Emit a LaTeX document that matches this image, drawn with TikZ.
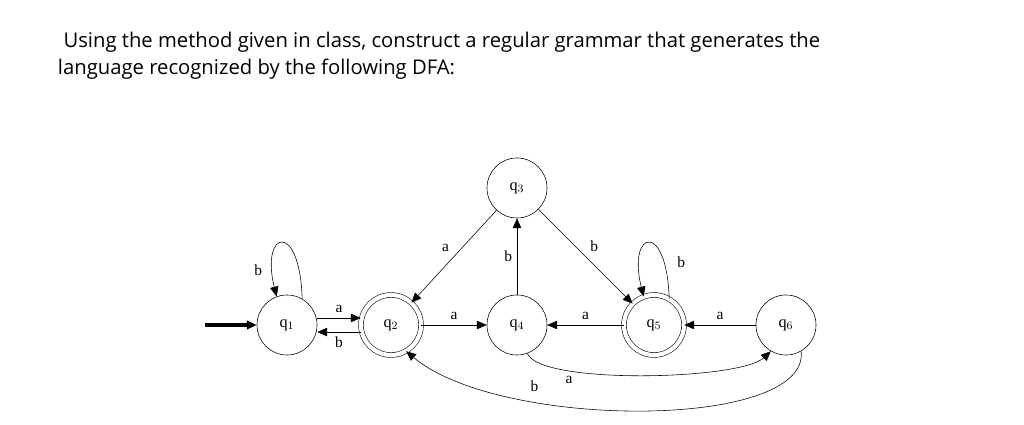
\documentclass[tikz,border=0pt]{standalone}
\usepackage{fontspec}
\setmainfont{Liberation Serif}
\newfontfamily\questfont{Open Sans}
\usetikzlibrary{automata, arrows.meta, positioning}

\begin{document}
\begin{tikzpicture}[
    x=0.025cm, y=-0.025cm,
    >={Triangle[length=7pt,width=6pt]},
    every state/.style={draw, circle, minimum size=1.5cm, inner sep=0pt, font=\fontsize{11.5}{11.5}\selectfont},
    accepting/.style={double, double distance=3pt},
    lbl/.style={font=\fontsize{11}{11}\selectfont}
]
\useasboundingbox (0,0) rectangle (1024,425);

\node[anchor=west, font=\questfont\fontsize{14.4}{19.5}\selectfont, align=left] (quest) at (53,56)
    {\hspace*{4pt}Using the method given in class, construct a regular grammar that generates the\\
     language recognized by the following DFA:};

\node[state] (q1) at (287,325) {q$_1$};
\node[state, accepting] (q2) at (391,325) {q$_2$};
\node[state] (q3) at (517,188) {q$_3$};
\node[state] (q4) at (517,325) {q$_4$};
\node[state, accepting] (q5) at (654,325) {q$_5$};
\node[state] (q6) at (786,325) {q$_6$};
\coordinate (start) at (205,325);

\draw[->, line width=2.2pt] (start) -- (q1);
\draw[->] (q1.60) .. controls (300,220) and (260,230) .. node[lbl, pos=0.85, left=4pt] {b} (q1.110);
\draw[->] ([yshift=5pt]q1.east) -- node[lbl, above] {a} ([yshift=5pt]q2.west);
\draw[->] ([yshift=-5pt]q2.west) -- node[lbl, below] {b} ([yshift=-5pt]q1.east);
\draw[->] (q2) -- node[lbl, above] {a} (q4);
\draw[->] (q3) -- node[lbl, above left] {a} (q2);
\draw[->] (q4) -- node[lbl, left] {b} (q3);
\draw[->] (q3) -- node[lbl, above right] {b} (q5);
\draw[->] (q5.60) .. controls (667,220) and (627,230) .. node[lbl, pos=0.2, right=6pt] {b} (q5.110);
\draw[->] (q5) -- node[lbl, above] {a} (q4);
\draw[->] (q6) -- node[lbl, above] {a} (q5);
\draw[->] (q4.290) .. controls (540,385) and (740,380) .. node[lbl, pos=0.26, below=0pt] {a} (q6.240);
\draw[->] (q6.300) .. controls (810,430) and (500,430) .. node[lbl, pos=0.7, above=3pt] {b} (q2.300);
\end{tikzpicture}
\end{document}
